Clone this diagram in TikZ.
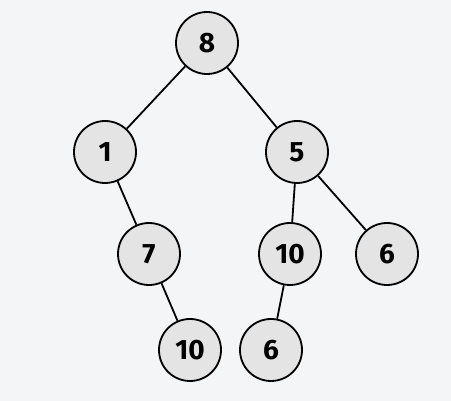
\documentclass[tikz,border=0pt]{standalone}
\usepackage{fontspec}
\setmainfont{Fira Sans}
\definecolor{bg}{HTML}{F4F5F7}
\definecolor{nodefill}{HTML}{E4E4E4}
\begin{document}
\begin{tikzpicture}[x=1pt,y=-1pt,
  tnode/.style={circle,draw=black,line width=1.8pt,fill=nodefill,minimum size=62pt,inner sep=0pt,font=\fontsize{28}{32}\selectfont\bfseries},
  edge/.style={line width=1.8pt,draw=black}]
\fill[bg] (0,0) rectangle (451,401);
\useasboundingbox (0,0) rectangle (451,401);
\node[tnode] (n8) at (207,43) {8};
\node[tnode] (n1) at (105,152) {1};
\node[tnode] (n5) at (297,152) {5};
\node[tnode] (n7) at (149,254) {7};
\node[tnode] (n10a) at (290,254) {10};
\node[tnode] (n6a) at (387,254) {6};
\node[tnode] (n10b) at (190,350) {10};
\node[tnode] (n6b) at (271,350) {6};
\draw[edge] (n8) -- (n1);
\draw[edge] (n8) -- (n5);
\draw[edge] (n1) -- (n7);
\draw[edge] (n7) -- (n10b);
\draw[edge] (n5) -- (n10a);
\draw[edge] (n5) -- (n6a);
\draw[edge] (n10a) -- (n6b);
\end{tikzpicture}
\end{document}
